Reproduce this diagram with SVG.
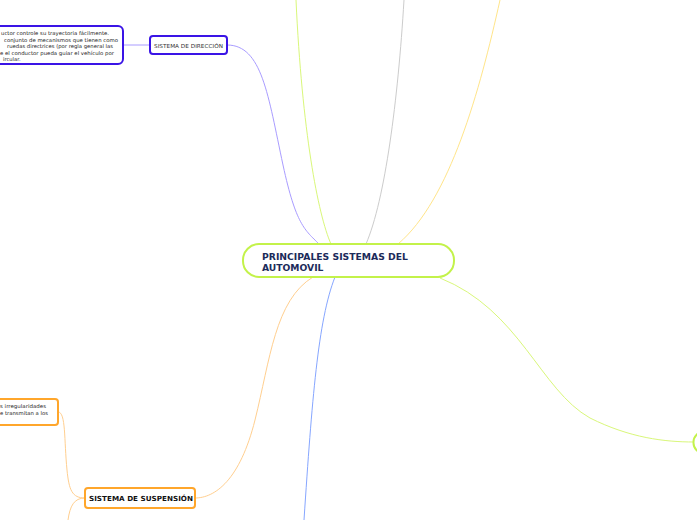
<svg xmlns="http://www.w3.org/2000/svg" width="697" height="520" viewBox="0 0 697 520">
<style>
.c{fill:none;stroke-width:1}
.sm{font-family:"DejaVu Sans",Verdana,sans-serif;font-size:5.2px;fill:#222}
.node{fill:#fff;stroke-width:2}
</style>
<rect width="697" height="520" fill="#fff"/>
<g id="connectors">
<path class="c" stroke="#d9f77a" d="M331,244 C318,215 302,130 296,0"/>
<path class="c" stroke="#cccccc" d="M366,244 C385,200 398,100 404,0"/>
<path class="c" stroke="#ffe58a" d="M398,244 C450,200 480,90 500,0"/>
<path class="c" stroke="#a99cff" d="M227,45 C262,45 268,95 283,165 C296,225 305,230 319,244"/>
<path class="c" stroke="#a99cff" d="M123,45 L150,45"/>
<path class="c" stroke="#ffcf8f" d="M313,277 C275,300 270,360 255,420 C240,480 215,498 195,498"/>
<path class="c" stroke="#86a6ff" d="M335,277 C318,320 312,400 304,520"/>
<path class="c" stroke="#d9f77a" d="M440,278 C520,310 540,390 590,418 C630,438 665,442 694,442"/>
<path class="c" stroke="#ffcf8f" d="M58,412 C66,412 64,440 67,470 C69,490 72,498 85,498"/>
<path class="c" stroke="#ffcf8f" d="M85,498 C74,498 70,506 68,520"/>
</g>
<g id="central">
<rect class="node" x="243" y="244" width="211" height="33" rx="16" stroke="#c3f24a" stroke-width="1.2"/>
<text x="262" y="259.5" font-family="'DejaVu Sans',Verdana,sans-serif" font-weight="bold" font-size="9.2" fill="#1c2b5a" textLength="146" lengthAdjust="spacingAndGlyphs">PRINCIPALES SISTEMAS DEL</text>
<text x="262" y="271" font-family="'DejaVu Sans',Verdana,sans-serif" font-weight="bold" font-size="9.2" fill="#1c2b5a">AUTOMOVIL</text>
</g>
<g id="direccion">
<rect class="node" x="150" y="36" width="77" height="18" rx="3" stroke="#3a14e6"/>
<text x="154" y="48" font-family="'DejaVu Sans',Verdana,sans-serif" font-size="5.4" fill="#333" textLength="69" lengthAdjust="spacingAndGlyphs">SISTEMA DE DIRECCIÓN</text>
</g>
<g id="direccion-desc">
<rect class="node" x="-20" y="26" width="143" height="38" rx="5" stroke="#3a14e6"/>
<text class="sm" x="1" y="35" textLength="108" lengthAdjust="spacingAndGlyphs">uctor controle su trayectoria fácilmente.</text>
<text class="sm" x="4" y="41.5" textLength="114" lengthAdjust="spacingAndGlyphs">conjunto de mecanismos que tienen como</text>
<text class="sm" x="7" y="48" textLength="106" lengthAdjust="spacingAndGlyphs">ruedas directrices (por regla general las</text>
<text class="sm" x="0" y="54.5" textLength="114" lengthAdjust="spacingAndGlyphs">e el conductor pueda guiar el vehículo por</text>
<text class="sm" x="3" y="61">ircular.</text>
</g>
<g id="suspension">
<rect class="node" x="85" y="488" width="110" height="20" rx="3" stroke="#ffa62b"/>
<text x="89" y="501" font-family="'DejaVu Sans',Verdana,sans-serif" font-weight="bold" font-size="7" fill="#111" textLength="104" lengthAdjust="spacingAndGlyphs">SISTEMA DE SUSPENSIÓN</text>
</g>
<g id="suspension-desc">
<rect class="node" x="-20" y="399" width="78" height="26" rx="3" stroke="#ffa62b"/>
<text class="sm" x="0" y="408" textLength="46" lengthAdjust="spacingAndGlyphs">s irregularidades</text>
<text class="sm" x="0" y="415" textLength="48" lengthAdjust="spacingAndGlyphs">e transmitan a los</text>
</g>
<g id="right-node">
<rect class="node" x="693.5" y="432" width="60" height="21" rx="10" stroke="#c3f24a" stroke-width="1.5"/>
</g>
</svg>
